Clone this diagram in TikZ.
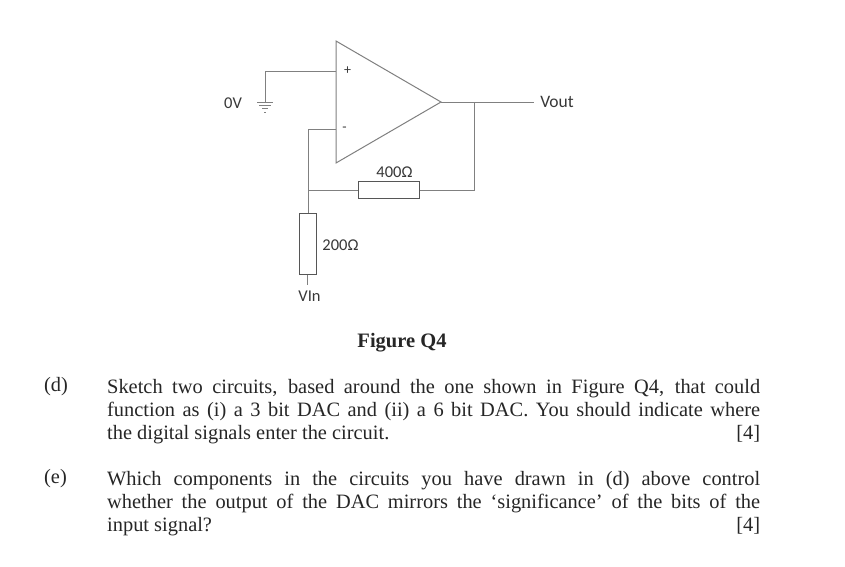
\documentclass[tikz,border=0pt]{standalone}
\usepackage{fontspec}
\setmainfont{Liberation Serif}
\newfontfamily\lblfont{Carlito}
\definecolor{wire}{gray}{0.5}
\definecolor{ink}{gray}{0.22}
\tikzset{
  wirestyle/.style={draw=wire,line width=1pt},
  resbox/.style={draw=ink!85!white,line width=1pt,fill=white,inner sep=0pt},
  lbl/.style={font=\lblfont\fontsize{16.5}{18}\selectfont,text=ink,inner sep=0pt},
  sign/.style={font=\lblfont\fontsize{14}{14}\selectfont,text=ink,inner sep=0pt},
  body/.style={font=\fontsize{20.4}{23}\selectfont,text=black!85,inner sep=0pt,align=justify,anchor=north west,text width=653pt},
  tag/.style={font=\fontsize{20.4}{23}\selectfont,text=black!85,inner sep=0pt,anchor=base west},
}
\begin{document}
\begin{tikzpicture}[x=1pt,y=-1pt]
\useasboundingbox (0,0) rectangle (845,566);
\fill[white] (0,0) rectangle (845,566);
% op amp
\coordinate (t1) at (336,41);
\coordinate (t2) at (336,163);
\coordinate (out) at (441,102);
\draw[wirestyle,line join=miter] (t1) -- (out) -- (t2) -- cycle;
\node[sign] (plus) at (347.5,71) {+};
\node[sign] (minus) at (344.5,129.5) {-};
% ground
\coordinate (gnd) at (265,102);
\coordinate (pin) at (336,71);
\coordinate (nin) at (336,129);
\coordinate (j1) at (308,129);
\coordinate (j2) at (308,190);
\coordinate (vo) at (534,102);
\coordinate (fb) at (474,102);
\coordinate (fb2) at (474,190);
\draw[wirestyle] (pin) -- (265,71) -- (gnd);
\draw[wire,line width=0.9pt] (257,102) -- (273,102) (259,105) -- (271,105) (262,108.5) -- (268,108.5) (264,112) -- (266,112);
\draw[wirestyle] (nin) -- (j1) -- (j2);
\draw[wirestyle] (out) -- (vo);
\draw[wirestyle] (fb) -- (fb2) -- (j2);
% resistors
\node[resbox,minimum width=61pt,minimum height=17pt] (r400) at (388.5,190) {};
\node[resbox,minimum width=17pt,minimum height=61pt] (r200) at (307.5,243.5) {};
\draw[wirestyle] (j2) -- (r200.north -| j2);
\coordinate (vinend) at (307,285);
\draw[wirestyle] (r200.south -| vinend) -- (vinend);
% labels
\node[lbl] (l0v) at (233,103) {0V};
\node[lbl,font=\lblfont\fontsize{17.5}{18}\selectfont] (lvout) at (557,102) {Vout};
\node[lbl] (l400) at (394.5,172) {400Ω};
\node[lbl] (l200) at (340.5,245) {200Ω};
\node[lbl] (lvin) at (309.5,296.5) {VIn};
% text
\node[font=\fontsize{20.5}{20}\selectfont\bfseries,text=black!85,inner sep=0pt,anchor=base] (fig) at (402,347) {Figure Q4};
\node[tag] (td) at (44,391) {(d)};
\node[body] (pd) at (107,379) {Sketch two circuits, based around the one shown in Figure Q4, that could\linebreak function as (i) a 3 bit DAC and (ii) a 6 bit DAC. You should indicate where\linebreak the digital signals enter the circuit.\hfill[4]};
\node[tag] (te) at (44,483) {(e)};
\node[body] (pe) at (107,471) {Which components in the circuits you have drawn in (d) above control\linebreak whether the output of the DAC mirrors the ‘significance’ of the bits of the\linebreak input signal?\hfill[4]};
\end{tikzpicture}
\end{document}
